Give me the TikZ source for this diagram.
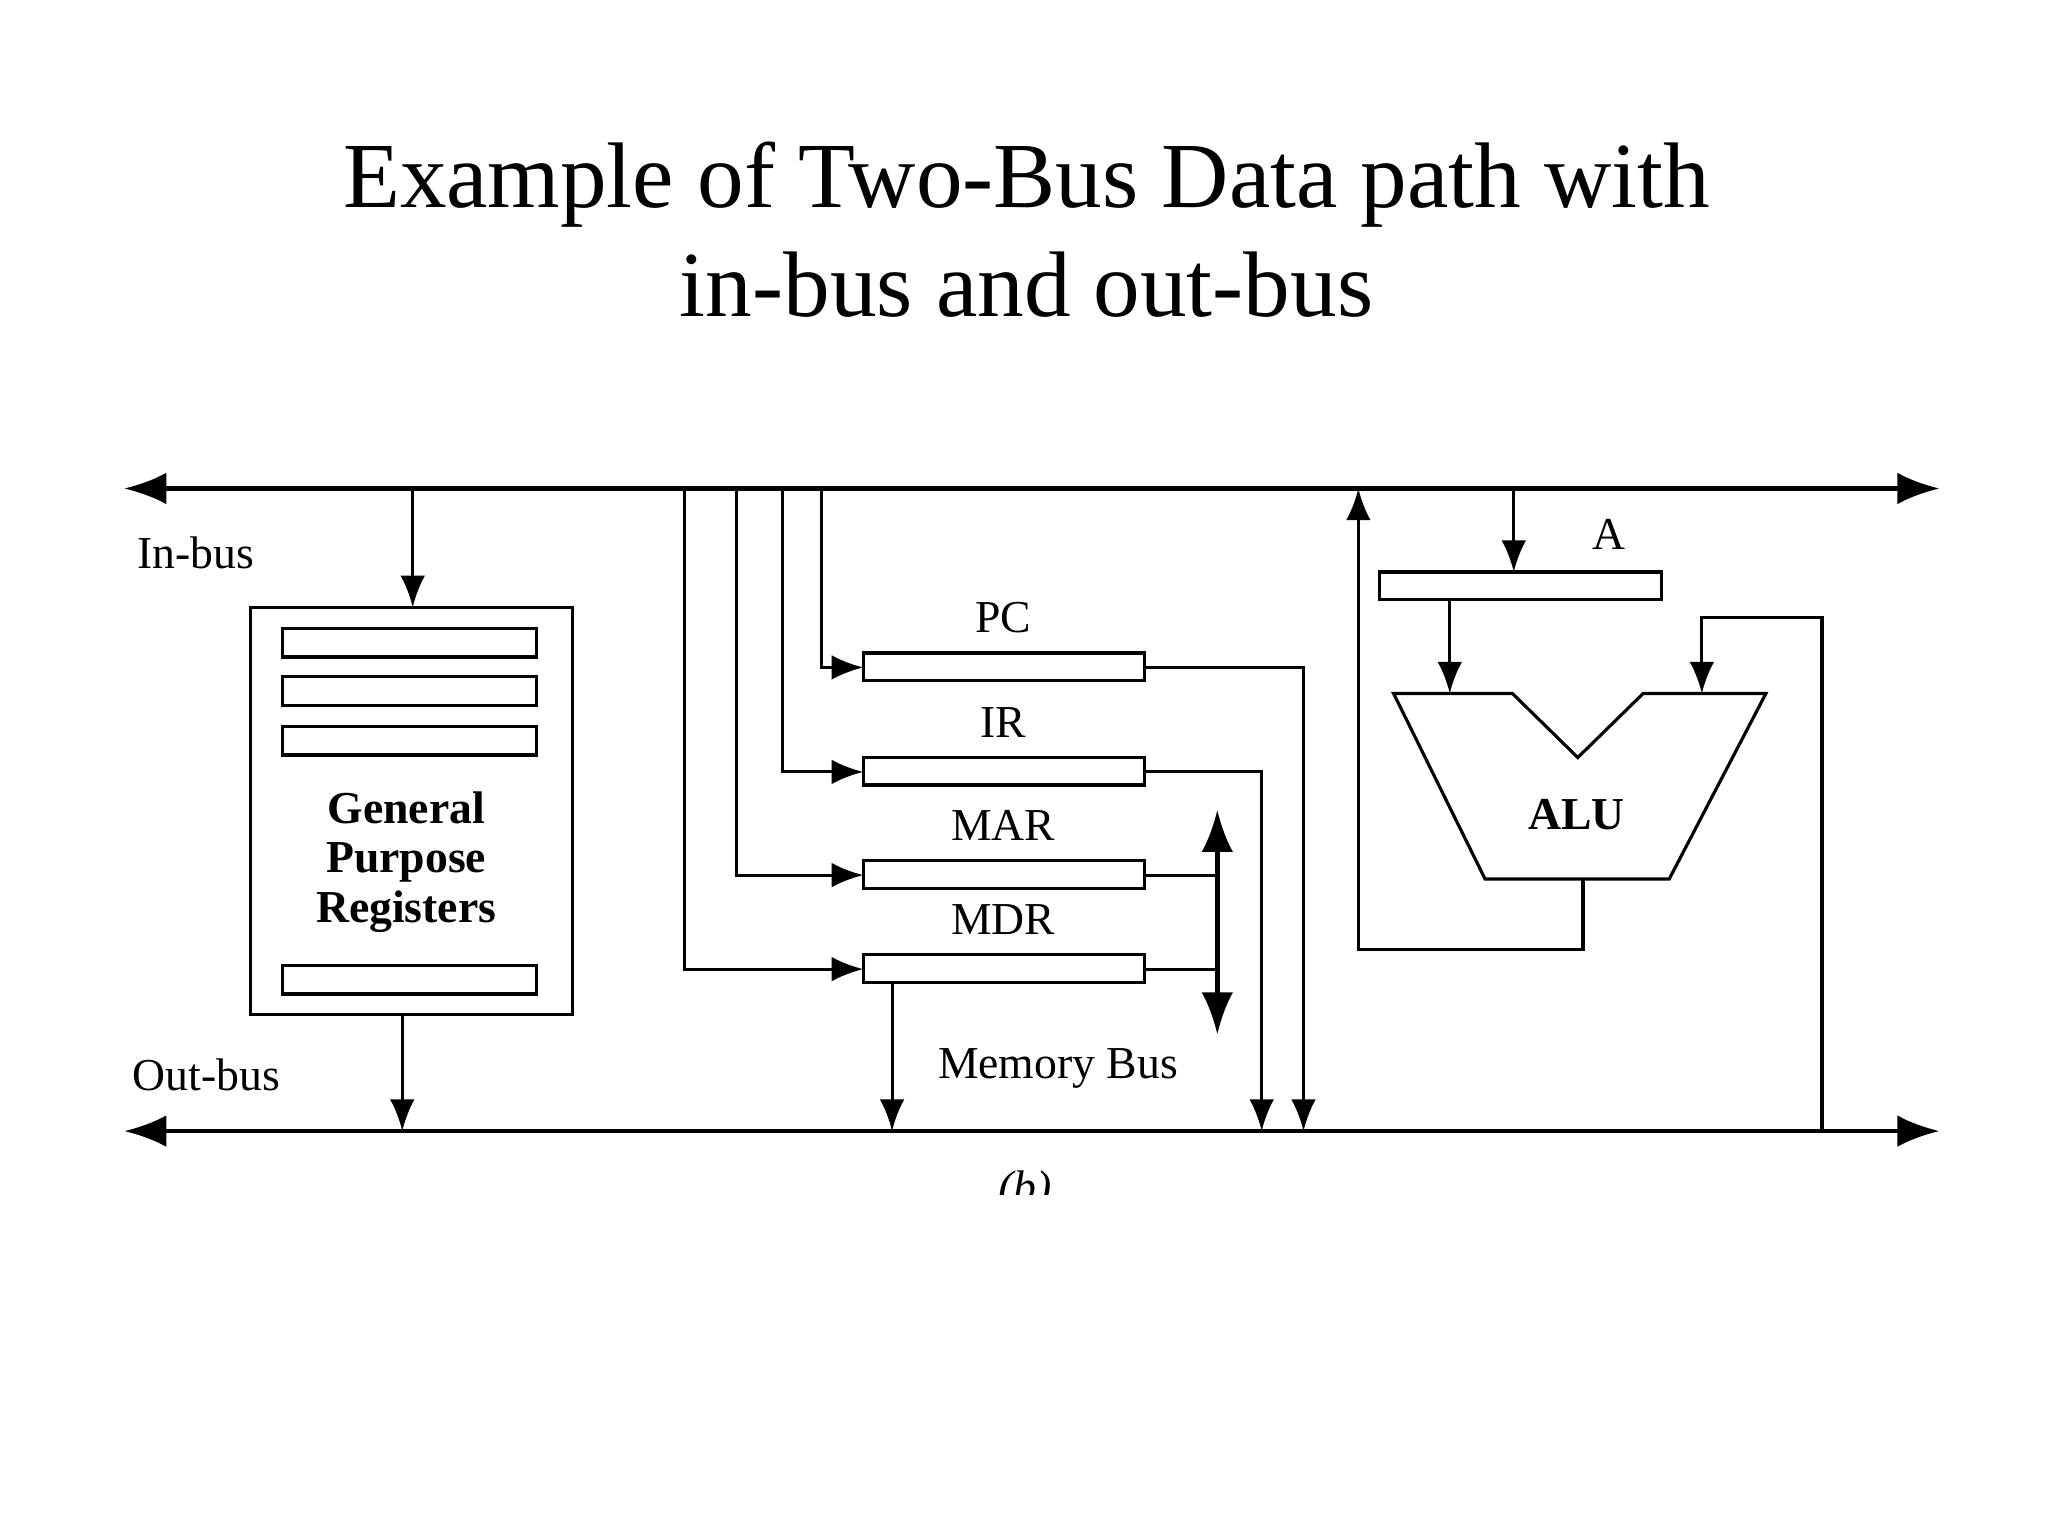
\documentclass[tikz,border=0pt]{standalone}
\usepackage{fontspec}
\setmainfont{Liberation Serif}
\usetikzlibrary{arrows.meta}
\begin{document}
\begin{tikzpicture}[x=0.01306cm,y=-0.01306cm,line width=0.9pt,
                    >={Latex[length=9pt,width=7pt]},
                    reg/.style={draw,line width=0.9pt},
                    lbl/.style={font=\fontsize{13}{15}\selectfont},
                    bus/.style={line width=1.3pt,<->,>={Latex[length=12pt,width=9pt]}}]
\useasboundingbox (0,0) rectangle (1568,1176);
% title
\node[font=\fontsize{26.5}{31}\selectfont,align=center] (title) at (786,176)
  {Example of Two-Bus Data path with\\ in-bus and out-bus};
% buses
\coordinate (inL) at (95,374);  \coordinate (inR) at (1485,374);
\coordinate (outL) at (95,866); \coordinate (outR) at (1485,866);
\draw[bus] (inL) -- (inR);
\draw[bus] (outL) -- (outR);
\node[lbl] (inlbl) at (150,423) {In-bus};
\node[lbl] (outlbl) at (158,823) {Out-bus};
\node[font=\fontsize{13}{15}\selectfont\itshape] (b) at (785,912) {(b)};
\fill[white] (600,915) rectangle (1000,960);
% general purpose registers
\draw[reg] (192,465) rectangle (438,777);
\foreach \y in {481,518,556,739}
  \draw[reg] (216,\y) rectangle (411,\y+22);
\node[font=\fontsize{13}{14}\selectfont\bfseries,align=center] (gpr) at (311,660)
  {General\\Purpose\\Registers};
\draw[->] (316,374) -- (316,465);
\draw[->] (308,777) -- (308,866);
% PC, IR, MAR, MDR
\foreach \y/\t/\x in {500/PC/629,580/IR/599,659/MAR/564,731/MDR/524}{
  \draw[reg] (661,\y) rectangle (876,\y+21);
  \node[lbl] at (768,\y-27) {\t};
  \draw[->] (\x,374) |- (661,\y+11);
}
\draw[->] (876,511) -| (998,866);
\draw[->] (876,591) -| (966,866);
\draw (876,670) -- (932,670);
\draw (876,742) -- (932,742);
\draw[<->,line width=1.3pt,>={Latex[length=12pt,width=9pt]}] (932,620) -- (932,792);
\draw[->] (683,752) -- (683,866);
\node[lbl] (mbus) at (810,818) {Memory Bus};
% A and ALU
\draw[reg] (1056,438) rectangle (1272,459);
\node[lbl] (albl) at (1232,409) {A};
\draw[->] (1159,374) -- (1159,438);
\draw[reg] (1067,531) -- (1158,531) -- (1208,580) -- (1258,531) -- (1352,531)
  -- (1278,673) -- (1137,673) -- cycle;
\node[font=\fontsize{13}{15}\selectfont\bfseries] (alu) at (1207,624) {ALU};
\draw[->] (1110,459) -- (1110,531);
\draw[->] (1395,866) |- (1303,473) -- (1303,531);
\draw[->] (1212,673) |- (1040,727) -- (1040,374);
\end{tikzpicture}
\end{document}
